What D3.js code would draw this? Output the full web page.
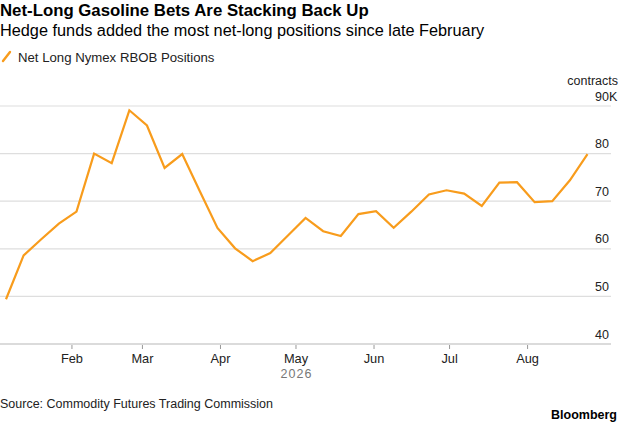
<!DOCTYPE html>
<html>
<head>
<meta charset="utf-8">
<script src="https://cdn.jsdelivr.net/npm/d3@7"></script>
<style>
  body { margin: 0; background: #fff; }
  text { font-family: "Liberation Sans", Arial, sans-serif; }
</style>
</head>
<body>
<script>
var width = 619,
    height = 429;

// weekly CFTC report dates (Tuesdays) and net long positions, thousands of contracts
var dates = ["2026-01-06", "2026-01-13", "2026-01-20", "2026-01-27",
    "2026-02-03", "2026-02-10", "2026-02-17", "2026-02-24",
    "2026-03-03", "2026-03-10", "2026-03-17", "2026-03-24", "2026-03-31",
    "2026-04-07", "2026-04-14", "2026-04-21", "2026-04-28",
    "2026-05-05", "2026-05-12", "2026-05-19", "2026-05-26",
    "2026-06-02", "2026-06-09", "2026-06-16", "2026-06-23", "2026-06-30",
    "2026-07-07", "2026-07-14", "2026-07-21", "2026-07-28",
    "2026-08-04", "2026-08-11", "2026-08-18", "2026-08-25"];
var netLong = [49.4, 58.6, 62.0, 65.3,
    67.8, 80.0, 78.0, 89.1,
    85.9, 77.0, 79.9, 72.1, 64.4,
    60.1, 57.4, 59.1, 62.8,
    66.5, 63.7, 62.7, 67.3,
    67.9, 64.4, 67.8, 71.4, 72.3,
    71.6, 69.0, 73.9, 74.0,
    69.8, 70.0, 74.4, 79.9];

var yTicks = [40, 50, 60, 70, 80, 90];
var monthTicks = ["2026-02-01", "2026-03-01", "2026-04-01", "2026-05-01",
    "2026-06-01", "2026-07-01", "2026-08-01"];
var monthLabels = ["Feb", "Mar", "Apr", "May", "Jun", "Jul", "Aug"];

var parse = d3.timeParse("%Y-%m-%d");
var data = dates.map(function (d, i) {
    return { date: parse(d), value: netLong[i] };
});

var svg = d3.select("body").append("svg")
    .attr("width", width)
    .attr("height", height);

var x = d3.scaleTime()
    .domain(d3.extent(data, function (d) { return d.date; }))
    .range([6, 587.5]);

var y = d3.scaleLinear()
    .domain([40, 90])
    .range([344, 106]);

// titles
svg.append("text")
    .attr("x", 0).attr("y", 16)
    .style("font-size", "16.8px").style("font-weight", "bold")
    .attr("fill", "#000")
    .text("Net-Long Gasoline Bets Are Stacking Back Up");

svg.append("text")
    .attr("x", 0).attr("y", 36)
    .style("font-size", "16.3px")
    .attr("fill", "#000")
    .text("Hedge funds added the most net-long positions since late February");

// legend
svg.append("line")
    .attr("x1", 3).attr("y1", 61).attr("x2", 10).attr("y2", 52)
    .attr("stroke", "#f89c1c").attr("stroke-width", 2.4)
    .attr("stroke-linecap", "round");
svg.append("text")
    .attr("x", 18).attr("y", 62)
    .style("font-size", "13.2px")
    .attr("fill", "#222")
    .text("Net Long Nymex RBOB Positions");

// gridlines + y labels on the right
var grid = svg.append("g");
grid.selectAll("line")
    .data(yTicks)
    .enter().append("line")
    .attr("x1", 0).attr("x2", 611)
    .attr("y1", function (d) { return y(d); })
    .attr("y2", function (d) { return y(d); })
    .attr("stroke", function (d) { return d == 40 ? "#cfcfcf" : "#dedede"; })
    .attr("stroke-width", function (d) { return d == 40 ? 1.5 : 1.2; });

grid.selectAll("text")
    .data(yTicks)
    .enter().append("text")
    .attr("x", 595)
    .attr("y", function (d) { return y(d) - 5.5; })
    .style("font-size", "12.5px")
    .attr("fill", "#222")
    .text(function (d) { return d == 90 ? d + "K" : d; });

svg.append("text")
    .attr("x", 618).attr("y", 85)
    .attr("text-anchor", "end")
    .style("font-size", "12.5px")
    .attr("fill", "#222")
    .text("contracts");

// x axis, month ticks below the baseline
var xAxis = d3.axisBottom(x)
    .tickValues(monthTicks.map(parse))
    .tickSize(4)
    .tickPadding(6)
    .tickFormat(function (d, i) { return monthLabels[i]; });

var ax = svg.append("g")
    .attr("transform", "translate(0," + y(40) + ")")
    .call(xAxis);
ax.select(".domain").remove();
ax.selectAll(".tick line").attr("stroke", "#999").attr("transform", "translate(0,1)");
ax.selectAll(".tick text")
    .style("font-size", "12.8px")
    .style("font-family", "'Liberation Sans', Arial, sans-serif")
    .attr("fill", "#222");

svg.append("text")
    .attr("x", x(parse("2026-05-01")) + 1).attr("y", 378)
    .attr("text-anchor", "middle")
    .style("font-size", "12.5px").style("letter-spacing", "1px")
    .attr("fill", "#777")
    .text("2026");

// the line itself
var line = d3.line()
    .x(function (d) { return x(d.date); })
    .y(function (d) { return y(d.value); });

svg.append("path")
    .datum(data)
    .attr("d", line)
    .attr("fill", "none")
    .attr("stroke", "#f89c1c")
    .attr("stroke-width", 2.2)
    .attr("stroke-linejoin", "miter");

// footer
svg.append("text")
    .attr("x", 0).attr("y", 408)
    .style("font-size", "12.5px")
    .attr("fill", "#222")
    .text("Source: Commodity Futures Trading Commission");

svg.append("text")
    .attr("x", 617).attr("y", 419)
    .attr("text-anchor", "end")
    .style("font-size", "12.5px").style("font-weight", "bold")
    .attr("fill", "#000")
    .text("Bloomberg");
</script>
</body>
</html>
